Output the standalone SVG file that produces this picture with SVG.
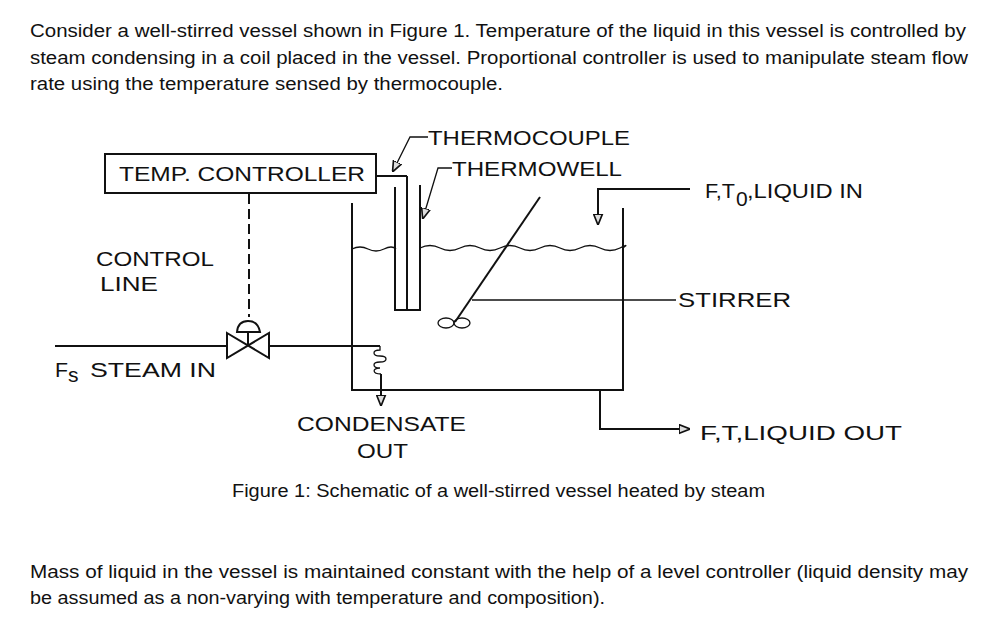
<svg xmlns="http://www.w3.org/2000/svg" width="994" height="621" viewBox="0 0 994 621">
<style>
.p{font-family:"Liberation Sans",Arial,sans-serif;font-size:17.5px;fill:#111}
.d{font-family:"Liberation Sans",Arial,sans-serif;font-size:21px;fill:#111}
.l{fill:none;stroke:#111;stroke-width:2}
.t{fill:none;stroke:#111;stroke-width:1.3}
</style>
<defs>
<marker id="a" viewBox="0 0 10 10" refX="9" refY="5" markerWidth="11" markerHeight="11" orient="auto" markerUnits="userSpaceOnUse"><path d="M0,1 L10,5 L0,9 Z" fill="#ddd" stroke="#111" stroke-width="1.5"/></marker>
</defs>
<rect width="994" height="621" fill="#fff"/>
<g id="text">
<text class="p" x="30" y="37" textLength="936" lengthAdjust="spacingAndGlyphs">Consider a well-stirred vessel shown in Figure 1. Temperature of the liquid in this vessel is controlled by</text>
<text class="p" x="30" y="64" textLength="938" lengthAdjust="spacingAndGlyphs">steam condensing in a coil placed in the vessel. Proportional controller is used to manipulate steam flow</text>
<text class="p" x="30" y="90" textLength="473" lengthAdjust="spacingAndGlyphs">rate using the temperature sensed by thermocouple.</text>
<text class="p" x="232" y="497" textLength="533" lengthAdjust="spacingAndGlyphs">Figure 1: Schematic of a well-stirred vessel heated by steam</text>
<text class="p" x="30" y="578" textLength="938" lengthAdjust="spacingAndGlyphs">Mass of liquid in the vessel is maintained constant with the help of a level controller (liquid density may</text>
<text class="p" x="30" y="604" textLength="575" lengthAdjust="spacingAndGlyphs">be assumed as a non-varying with temperature and composition).</text>
</g>
<g id="controller">
<rect x="105" y="154" width="271" height="39" class="l" stroke-width="1.6"/>
<text class="d" x="119" y="181" textLength="246" lengthAdjust="spacingAndGlyphs">TEMP. CONTROLLER</text>
</g>
<g id="vessel">
<path class="l" d="M352,203 V390 H623 V208"/>
<path class="t" d="M352,249 q8,-4 16,0 t16,0 t12,0 M420,248 q10,-5 20,0 t20,0 t20,0 t20,0 t20,0 t20,0 t20,0 t20,0 t20,0 t20,0 t3,0"/>
</g>
<g id="thermowell">
<path class="l" d="M395,187 V310 H420 V185 M407,176 V310"/>
</g>
<g id="stirrer">
<line x1="540" y1="197" x2="455" y2="322" class="l"/>
<ellipse cx="446" cy="323" rx="8" ry="5" class="t" stroke-width="1.8"/>
<ellipse cx="462" cy="323" rx="8" ry="5" class="t" stroke-width="1.8"/>
</g>
<g id="valve">
<path class="l" d="M227,333 L269,358 V333 L227,358 Z" stroke-width="1.8" fill="#fff"/>
<path class="l" d="M248,345 V332 M237,332 H260 Q258,321 248,321 Q238,321 237,332 Z" stroke-width="1.8"/>
</g>
<g id="coil">
<path class="t" stroke-width="1.8" d="M380,346 V350 c-8,0 -8,6 0,6 c8,0 8,6 0,6 c-8,0 -8,6 0,6 c-8,0 -8,6 1,6"/>
</g>
<g id="connectors">
<path class="l" d="M376,176 H407"/>
<path class="l" d="M249,194 V317" stroke-dasharray="10,5"/>
<path class="l" d="M55,346 H227 M269,346 H380"/>
<path class="l" d="M381,374 V405" marker-end="url(#a)"/>
<path class="l" d="M690,189 H598 V224" marker-end="url(#a)"/>
<path class="l" d="M600,390 V429 H689" marker-end="url(#a)"/>
<path class="t" d="M472,300 H676"/>
<path class="t" d="M428,137 H410 L393,171" marker-end="url(#a)"/>
<path class="t" d="M452,168 H438 L423,218" marker-end="url(#a)"/>
</g>
<g id="labels">
<text class="d" x="428" y="145" textLength="202" lengthAdjust="spacingAndGlyphs">THERMOCOUPLE</text>
<text class="d" x="452" y="176" textLength="170" lengthAdjust="spacingAndGlyphs">THERMOWELL</text>
<text class="d" x="705" y="198" textLength="30" lengthAdjust="spacingAndGlyphs">F,T</text>
<text class="d" x="736" y="206" font-size="15">0</text>
<text class="d" x="747" y="198" textLength="116" lengthAdjust="spacingAndGlyphs">,LIQUID IN</text>
<text class="d" x="678" y="307" textLength="113" lengthAdjust="spacingAndGlyphs">STIRRER</text>
<text class="d" x="96" y="266" textLength="118" lengthAdjust="spacingAndGlyphs">CONTROL</text>
<text class="d" x="100" y="291" textLength="58" lengthAdjust="spacingAndGlyphs">LINE</text>
<text class="d" x="55" y="377" textLength="13" lengthAdjust="spacingAndGlyphs">F</text>
<text class="d" x="68" y="382" font-size="14">s</text>
<text class="d" x="90" y="377" textLength="126" lengthAdjust="spacingAndGlyphs">STEAM IN</text>
<text class="d" x="297" y="431" textLength="169" lengthAdjust="spacingAndGlyphs">CONDENSATE</text>
<text class="d" x="357" y="458" textLength="51" lengthAdjust="spacingAndGlyphs">OUT</text>
<text class="d" x="700" y="440" textLength="202" lengthAdjust="spacingAndGlyphs">F,T,LIQUID OUT</text>
</g>
</svg>
